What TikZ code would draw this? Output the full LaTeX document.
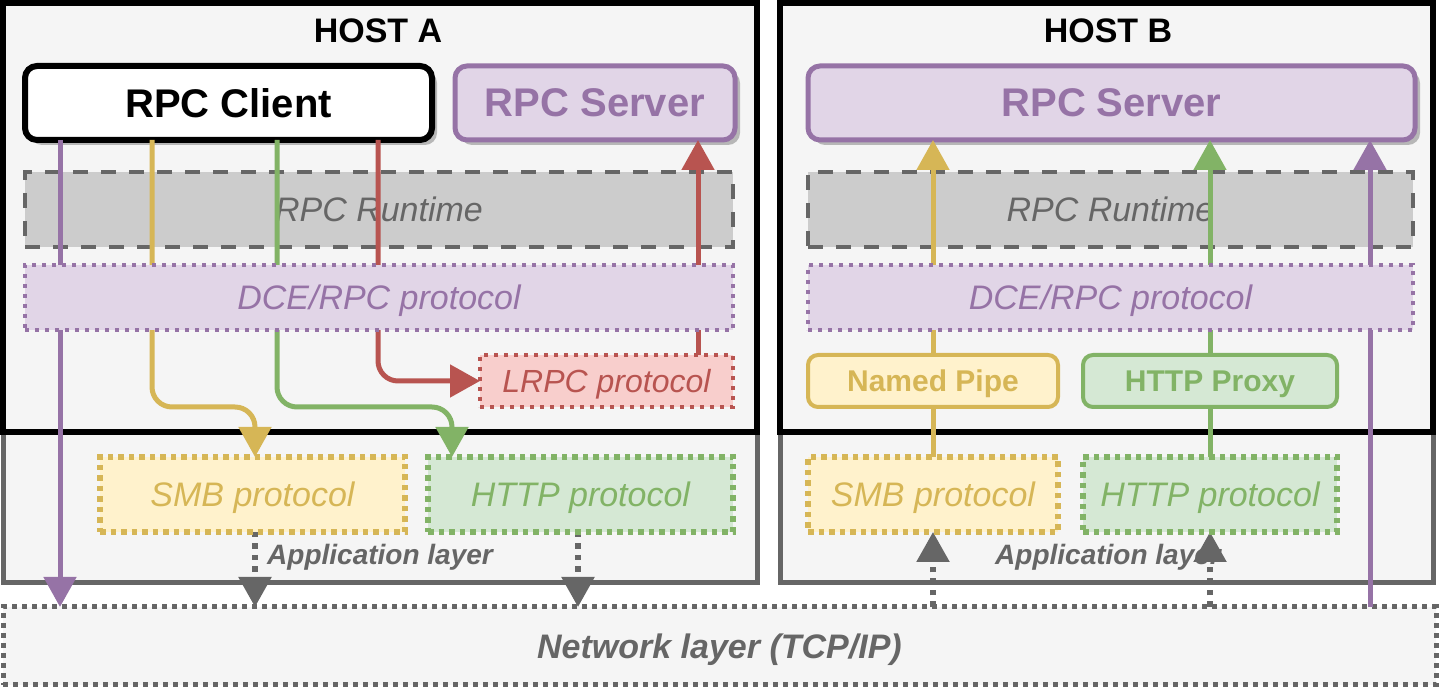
\documentclass[tikz,border=0pt]{standalone}
\usepackage{fontspec}
\setmainfont{Liberation Sans}
\usetikzlibrary{arrows.meta,shadows}
\definecolor{hostbg}{HTML}{F5F5F5}
\definecolor{gsix}{HTML}{666666}
\definecolor{rtfill}{HTML}{CCCCCC}
\definecolor{purp}{HTML}{9673A6}
\definecolor{purpfill}{HTML}{E1D5E7}
\definecolor{yel}{HTML}{D6B656}
\definecolor{yelfill}{HTML}{FFF2CC}
\definecolor{grn}{HTML}{82B366}
\definecolor{grnfill}{HTML}{D5E8D4}
\definecolor{rd}{HTML}{B85450}
\definecolor{rdfill}{HTML}{F8CECC}
\newcommand\fsz[1]{\fontsize{#1}{#1}\selectfont}
\pgfdeclarelayer{bg}
\pgfdeclarelayer{fg}
\pgfsetlayers{bg,main,fg}
\tikzset{
  box/.style={inner sep=0pt, outer sep=0pt, align=center, text depth=0pt},
  hostbox/.style={box, draw=black, line width=3pt, fill=hostbg},
  appbox/.style={box, draw=gsix, line width=2.5pt, fill=hostbg},
  netbox/.style={box, draw=gsix, line width=2.5pt, dash pattern=on 2.5pt off 2.5pt, fill=hostbg, text=gsix, font=\fsz{17}\bfseries\itshape},
  shad/.style={drop shadow={shadow xshift=2.5pt, shadow yshift=-2.5pt, fill=black, opacity=0.25}},
  clientbox/.style={box, draw=black, line width=3pt, fill=white, rounded corners=6pt, shad, font=\fsz{20}\bfseries},
  serverbox/.style={box, draw=purp, line width=2.5pt, fill=purpfill, rounded corners=6pt, shad, text=purp, font=\fsz{20}\bfseries},
  rtbox/.style={box, draw=gsix, line width=2pt, dash pattern=on 7.5pt off 6.5pt, fill=rtfill, text=gsix, font=\fsz{17}\itshape},
  dcebox/.style={box, draw=purp, line width=2pt, dash pattern=on 2pt off 3pt, fill=purpfill, text=purp, font=\fsz{17}\itshape},
  lrpcbox/.style={box, draw=rd, line width=2pt, dash pattern=on 2pt off 3pt, fill=rdfill, text=rd, font=\fsz{16}\itshape},
  pipebox/.style={box, draw=yel, line width=2pt, fill=yelfill, rounded corners=5pt, text=yel, font=\fsz{15}\bfseries},
  proxybox/.style={box, draw=grn, line width=2pt, fill=grnfill, rounded corners=5pt, text=grn, font=\fsz{15}\bfseries},
  smbbox/.style={box, draw=yel, line width=2.75pt, dash pattern=on 2.75pt off 2.5pt, fill=yelfill, text=yel, font=\fsz{17}\itshape},
  httpbox/.style={box, draw=grn, line width=2.75pt, dash pattern=on 2.75pt off 2.5pt, fill=grnfill, text=grn, font=\fsz{17}\itshape},
  hosttitle/.style={font=\fsz{17}\bfseries, inner sep=0pt},
  applabel/.style={font=\fsz{14}\bfseries\itshape, text=gsix, inner sep=0pt},
  pconn/.style={line width=2.5pt, draw=purp, -{Triangle[length=15pt,width=16pt,fill=purp]}},
  yconn/.style={line width=2.5pt, draw=yel, rounded corners=10pt, -{Triangle[length=15pt,width=16pt,fill=yel]}},
  gconn/.style={line width=2.5pt, draw=grn, rounded corners=10pt, -{Triangle[length=15pt,width=16pt,fill=grn]}},
  rconn/.style={line width=2.5pt, draw=rd, rounded corners=10pt, -{Triangle[length=15pt,width=16pt,fill=rd]}},
  dconn/.style={line width=2.75pt, draw=gsix, dash pattern=on 2.75pt off 3pt, -{Triangle[length=15pt,width=16pt,fill=gsix]}},
}
\begin{document}
\begin{tikzpicture}[x=0.5pt,y=-0.5pt]
\useasboundingbox (0,0) rectangle (1441,688);
\begin{pgfonlayer}{bg}
  % application layers
  \node[appbox, minimum width=377pt, minimum height=75.5pt] (appA) at (380,507.5) {};
  \node[appbox, minimum width=326.5pt, minimum height=75.5pt] (appB) at (1106.5,507.5) {};
  % hosts
  \node[hostbox, minimum width=377pt, minimum height=214.5pt] (hostA) at (380,217.5) {};
  \node[hostbox, minimum width=326.5pt, minimum height=214.5pt] (hostB) at (1106.5,217.5) {};
  \node[hosttitle] (titleA) at (378,31) {HOST A};
  \node[hosttitle] (titleB) at (1108,31) {HOST B};
  \node[applabel] (applA) at (380,557) {Application layer};
  \node[applabel] (applB) at (1108,557) {Application layer};
  % network
  \node[netbox, minimum width=716.5pt, minimum height=39pt] (net) at (719.5,646) {Network layer (TCP/IP)};
  % runtimes
  \node[rtbox, minimum width=354pt, minimum height=37.5pt] (rtA) at (379,209.5) {RPC Runtime};
  \node[rtbox, minimum width=302.5pt, minimum height=37.5pt] (rtB) at (1110.5,209.5) {RPC Runtime};
  % client and servers
  \node[clientbox, minimum width=203.5pt, minimum height=37pt] (client) at (228.5,103) {RPC Client};
  \node[serverbox, minimum width=140pt, minimum height=37pt] (srvA) at (595,103) {RPC Server};
  \node[serverbox, minimum width=303.5pt, minimum height=37pt] (srvB) at (1111.5,103) {RPC Server};
\end{pgfonlayer}
\begin{pgfonlayer}{fg}
  \node[dcebox, minimum width=354pt, minimum height=32.5pt] (dceA) at (379,297.5) {DCE/RPC protocol};
  \node[dcebox, minimum width=302.5pt, minimum height=32.5pt] (dceB) at (1110.5,297.5) {DCE/RPC protocol};
  \node[lrpcbox, minimum width=126.5pt, minimum height=26pt] (lrpc) at (606.5,381) {LRPC protocol};
  \node[pipebox, minimum width=125pt, minimum height=26pt] (pipe) at (933,381) {Named Pipe};
  \node[proxybox, minimum width=127pt, minimum height=26pt] (proxy) at (1210,381) {HTTP Proxy};
  \node[smbbox, minimum width=152.5pt, minimum height=37.5pt] (smbA) at (252.5,494.5) {SMB protocol};
  \node[httpbox, minimum width=152.5pt, minimum height=37.5pt] (httpA) at (580.5,494.5) {HTTP protocol};
  \node[smbbox, minimum width=125pt, minimum height=37.5pt] (smbB) at (933,494.5) {SMB protocol};
  \node[httpbox, minimum width=127pt, minimum height=37.5pt] (httpB) at (1210,494.5) {HTTP protocol};
\end{pgfonlayer}
% helper coordinates
\coordinate (pA) at (60,0);
\coordinate (yA) at (152,407);
\coordinate (yAe) at (255,407);
\coordinate (gA) at (277,407);
\coordinate (gAe) at (452,407);
\coordinate (rA) at (378,381);
\coordinate (rUp) at (698,0);
\coordinate (dA1) at (255,0);
\coordinate (dA2) at (578,0);
\coordinate (pB) at (1370,0);
% connectors host A
\draw[pconn] (client.south -| pA) -- (net.north -| pA);
\draw[yconn] (client.south -| yA) -- (yA) -- (yAe) -- (smbA.north -| yAe);
\draw[gconn] (client.south -| gA) -- (gA) -- (gAe) -- (httpA.north -| gAe);
\draw[rconn] (client.south -| rA) -- (rA) -- (lrpc.west);
\draw[rconn] (lrpc.north -| rUp) -- (srvA.south -| rUp);
\draw[dconn] (smbA.south -| dA1) -- (net.north -| dA1);
\draw[dconn] (httpA.south -| dA2) -- (net.north -| dA2);
% connectors host B
\draw[dconn] (net.north -| smbB) -- (smbB.south);
\draw[dconn] (net.north -| httpB) -- (httpB.south);
\draw[yconn] (smbB.north) -- (srvB.south -| smbB);
\draw[gconn] (httpB.north) -- (srvB.south -| httpB);
\draw[pconn] (net.north -| pB) -- (srvB.south -| pB);
\end{tikzpicture}
\end{document}
